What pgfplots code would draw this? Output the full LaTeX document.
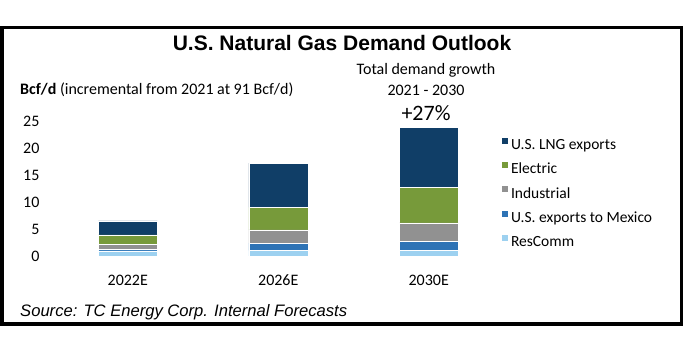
\documentclass[border=0pt]{standalone}
\usepackage{pgfplots}
\pgfplotsset{compat=1.18}
\usepackage{fontspec}
\setmainfont{Carlito}
\newfontfamily\arial{Liberation Sans}
\definecolor{lng}{HTML}{103E67}
\definecolor{elec}{HTML}{779A3A}
\definecolor{indus}{HTML}{919191}
\definecolor{mex}{HTML}{2E73B5}
\definecolor{resc}{HTML}{9DD1F0}
\begin{document}
\begin{tikzpicture}[x=1pt,y=1pt]
\useasboundingbox (0,0) rectangle (684,355);
\fill[white] (0,0) rectangle (684,355);
\draw[line width=3.5pt] (1.75,30.75) rectangle (681.25,327.25);
\begin{axis}[
  at={(45pt,99pt)}, anchor=south west,
  scale only axis, width=459pt, height=135pt,
  ybar stacked, bar width=59pt,
  xmin=-0.55, xmax=2.5, ymin=0, ymax=25,
  xtick=data, xticklabels={2022E,2026E,2030E},
  ytick={0,5,10,15,20,25},
  axis line style={draw=none}, major tick length=0pt,
  tick label style={font=\fontsize{16}{19}\selectfont},
  /pgf/number format/assume math mode=true,
  xticklabel style={anchor=north, text height=10.5pt, text depth=0pt, inner sep=0pt, yshift=-18.5pt},
  yticklabel style={anchor=east, xshift=-2pt},
  reverse legend,
  legend style={at={(0.992,0.884)}, anchor=north west, draw=none, fill=none,
    inner sep=0pt, row sep=7.5pt, font=\fontsize{15.5}{18}\selectfont,
    nodes={inner sep=1pt, text height=11pt, text depth=3pt},
    /tikz/every odd column/.append style={column sep=2pt}},
  legend cell align=left,
  every axis plot post/.append style={legend image code/.code={\fill[##1] (0pt,1.5pt) rectangle (7pt,8.5pt);}},
  clip=false,
]
\addplot[fill=resc, draw=white, line width=0.5pt] coordinates {(0,0.93) (1,1.05) (2,1.0)};
\addlegendentry{ResComm}
\addplot[fill=mex, draw=white, line width=0.5pt] coordinates {(0,0.3) (1,1.35) (2,1.75)};
\addlegendentry{U.S. exports to Mexico}
\addplot[fill=indus, draw=white, line width=0.5pt] coordinates {(0,0.93) (1,2.45) (2,3.4)};
\addlegendentry{Industrial}
\addplot[fill=elec, draw=white, line width=0.5pt] coordinates {(0,1.73) (1,4.15) (2,6.5)};
\addlegendentry{Electric}
\addplot[fill=lng, draw=white, line width=0.5pt] coordinates {(0,2.6) (1,8.2) (2,11.1)};
\addlegendentry{U.S. LNG exports}
\end{axis}
\node[font=\arial\bfseries\fontsize{21}{25}\selectfont] at (342,312) {U.S. Natural Gas Demand Outlook};
\node[anchor=west, inner sep=0pt, font=\fontsize{16}{19}\selectfont] at (20,265) {\textbf{Bcf/d} (incremental from 2021 at 91 Bcf/d)};
\node[font=\fontsize{16}{19}\selectfont] at (426,285) {Total demand growth};
\node[font=\fontsize{16}{19}\selectfont] at (426,265) {2021 - 2030};
\node[font=\fontsize{22}{26}\selectfont] at (426,242) {+27\%};
\node[anchor=west, inner sep=0pt, font=\arial\itshape\fontsize{16.6}{20}\selectfont] at (20,43) {Source: TC Energy Corp. Internal Forecasts};
\end{tikzpicture}
\end{document}
